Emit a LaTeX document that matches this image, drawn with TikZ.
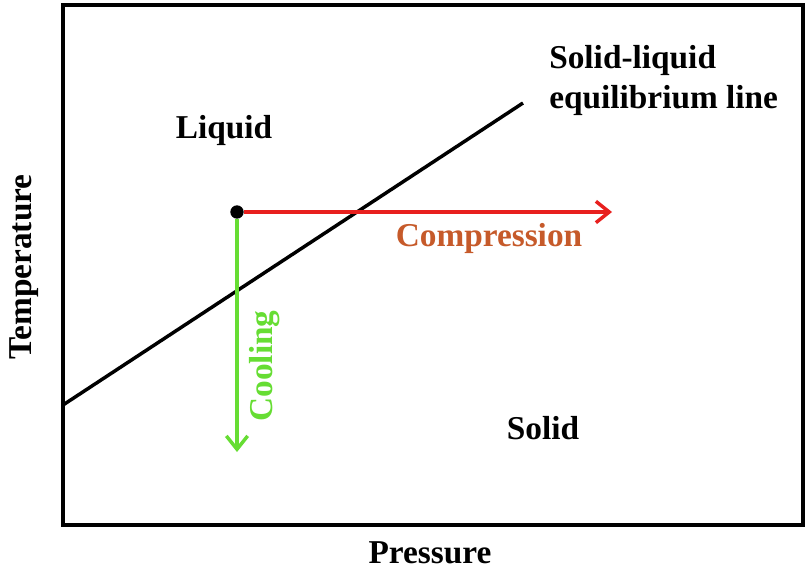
\documentclass[tikz,border=0pt]{standalone}
\usepackage{fontspec}
\setmainfont{Liberation Serif}
\usetikzlibrary{arrows.meta}
\definecolor{redc}{HTML}{E8201E}
\definecolor{greenc}{HTML}{66DD33}
\definecolor{orangec}{HTML}{C65A2A}
\tikzset{lbl/.style={font=\fontsize{25}{30}\selectfont\bfseries, inner sep=0pt}}
\begin{document}
\begin{tikzpicture}[x=0.75pt,y=-0.75pt]
\useasboundingbox (0,0) rectangle (807,571);
\draw[line width=3pt] (63,5) rectangle (803,525);
\coordinate (a) at (63,405);
\coordinate (b) at (523,103);
\draw[line width=2.6pt] (a) -- (b);
\node[circle, fill=black, minimum size=10pt, inner sep=0pt] (dot) at (237,212) {};
\coordinate (re) at (612,212);
\coordinate (ge) at (237,452);
\draw[redc, line width=2.6pt, -{Straight Barb[length=10pt,width=16pt]}] (dot.east) -- (re);
\draw[greenc, line width=2.6pt, -{Straight Barb[length=10pt,width=16pt]}] (dot.south) -- (ge);
\node[lbl, align=left, anchor=west] (sl) at (549,80) {Solid-liquid\\equilibrium line};
\node[lbl] (liq) at (224,130) {Liquid};
\node[lbl, text=orangec] (comp) at (489,238) {Compression};
\node[lbl, text=greenc, rotate=90] (cool) at (265,366) {Cooling};
\node[lbl] (sol) at (543,428) {Solid};
\node[lbl, rotate=90] (temp) at (24,267) {Temperature};
\node[lbl] (pres) at (430,553) {Pressure};
\end{tikzpicture}
\end{document}
